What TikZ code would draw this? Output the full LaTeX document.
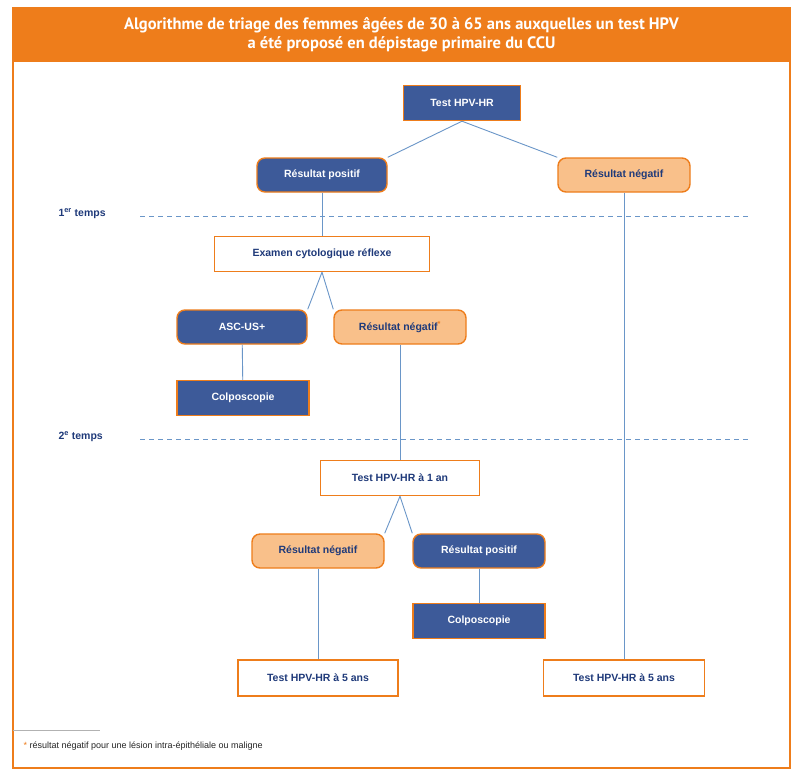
\documentclass[tikz,border=0pt]{standalone}
\usepackage{fontspec}
\setmainfont{Liberation Sans}
\newfontfamily\titlefont{PT Sans}
\definecolor{bl}{HTML}{3D5A99}
\definecolor{og}{HTML}{EE7D1B}
\definecolor{lo}{HTML}{F9C08A}
\definecolor{tx}{HTML}{1F3A7A}
\definecolor{ln}{HTML}{6A96C8}
\begin{document}
\begin{tikzpicture}[x=1pt,y=-1pt,
 base/.style={draw=og,line width=1.4pt,font=\bfseries\fontsize{10.5}{12}\selectfont,minimum height=34,inner sep=0pt},
 bbox/.style={base,fill=bl,text=white},
 bround/.style={bbox,rounded corners=8pt},
 oround/.style={base,fill=lo,text=tx,rounded corners=8pt},
 wbox/.style={base,fill=white,text=tx},
 con/.style={draw=ln,line width=0.9pt},
 dashln/.style={draw=ln,line width=0.9pt,dash pattern=on 5pt off 4pt},
 lab/.style={text=tx,font=\bfseries\fontsize{10.5}{12}\selectfont,anchor=west}]
\useasboundingbox (0,0) rectangle (802,774);
\draw[og,line width=1.2pt,fill=white] (13,8) rectangle (790,768);
\fill[og] (13,8) rectangle (790,62);
\node[text=white,font=\titlefont\bfseries\fontsize{16.5}{19}\selectfont,align=center] (title) at (401.5,35) {Algorithme de triage des femmes âgées de 30 à 65 ans auxquelles un test HPV\\a été proposé en dépistage primaire du CCU};
\coordinate (d1a) at (140,216); \coordinate (d1b) at (748,216);
\coordinate (d2a) at (140,439); \coordinate (d2b) at (748,439);
\draw[dashln] (d1a) -- (d1b);
\draw[dashln] (d2a) -- (d2b);
\node[bbox,minimum width=117,minimum height=35] (hpv) at (462,103) {Test HPV-HR};
\node[bround,minimum width=130] (pos1) at (322,175) {Résultat positif};
\node[oround,minimum width=132] (neg1) at (624,175) {Résultat négatif};
\node[wbox,minimum width=215,minimum height=35] (cyto) at (322,254) {Examen cytologique réflexe};
\node[bround,minimum width=130] (asc) at (242,327) {ASC-US+};
\node[oround,minimum width=132] (neg2) at (400,327) {Résultat négatif\textsuperscript{\textcolor{og}{*}}};
\node[bbox,minimum width=132,minimum height=35] (colpo1) at (243,398) {Colposcopie};
\node[wbox,minimum width=159,minimum height=35] (hpv1) at (400,478) {Test HPV-HR à 1 an};
\node[oround,minimum width=132] (neg3) at (318,551) {Résultat négatif};
\node[bround,minimum width=132] (pos3) at (479,551) {Résultat positif};
\node[bbox,minimum width=132,minimum height=35] (colpo2) at (479,621) {Colposcopie};
\node[wbox,minimum width=160,minimum height=36] (hpv5a) at (318,678) {Test HPV-HR à 5 ans};
\node[wbox,minimum width=161,minimum height=36] (hpv5b) at (624,678) {Test HPV-HR à 5 ans};
\node[lab] (t1) at (55,214) {1\textsuperscript{er} temps};
\node[lab] (t2) at (55,437) {2\textsuperscript{e} temps};
\draw[con] (hpv.south) -- (pos1.north east);
\draw[con] (hpv.south) -- (neg1.north west);
\draw[con] (pos1) -- (cyto);
\draw[con] (neg1) -- (hpv5b);
\draw[con] (cyto.south) -- (asc.north east);
\draw[con] (cyto.south) -- (neg2.north west);
\draw[con] (asc) -- (colpo1);
\draw[con] (neg2) -- (hpv1);
\draw[con] (hpv1.south) -- (neg3.north east);
\draw[con] (hpv1.south) -- (pos3.north west);
\draw[con] (neg3) -- (hpv5a);
\draw[con] (pos3) -- (colpo2);
\coordinate (fa) at (13,730); \coordinate (fb) at (100,730);
\draw[gray!60,line width=0.5pt] (fa) -- (fb);
\node[anchor=west,font=\fontsize{9}{11}\selectfont,text=black!85] (foot) at (20,746) {\textcolor{og}{*} résultat négatif pour une lésion intra-épithéliale ou maligne};
\end{tikzpicture}
\end{document}
